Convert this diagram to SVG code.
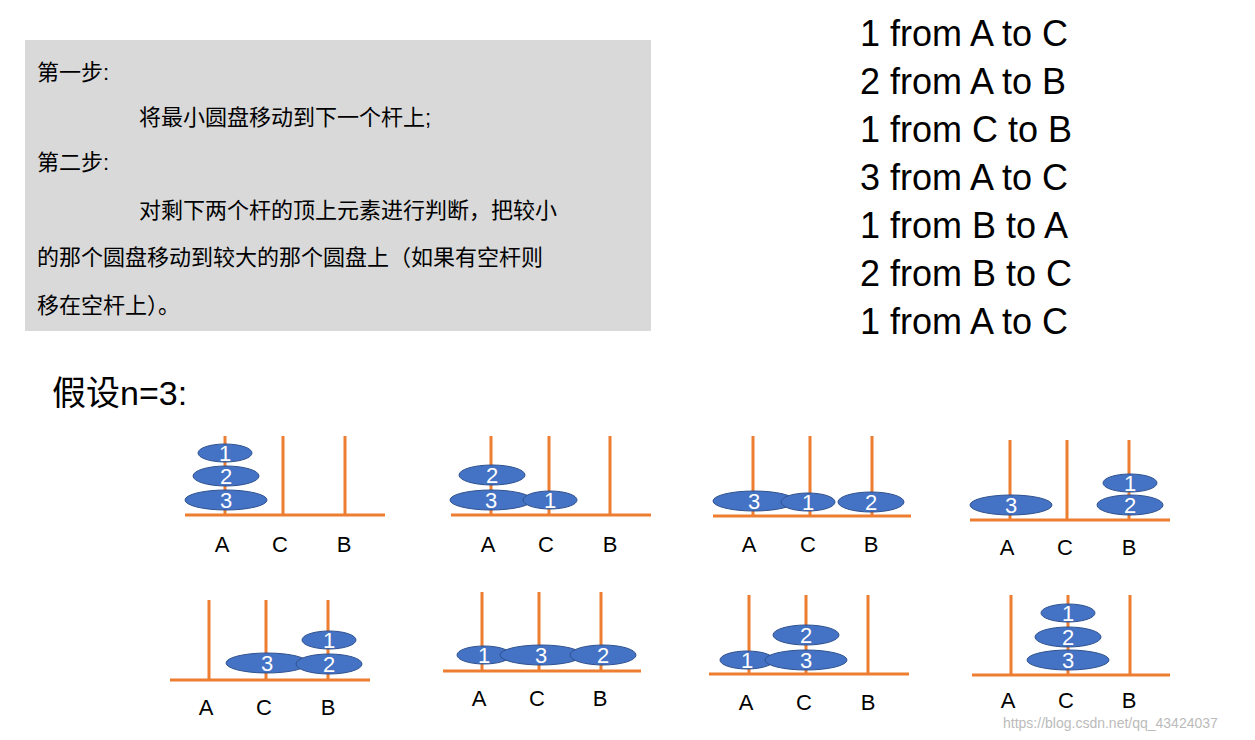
<svg xmlns="http://www.w3.org/2000/svg" width="1255" height="740" viewBox="0 0 1255 740">
<style>
.t{font-family:"Liberation Sans","Noto Sans CJK SC",sans-serif;fill:#000}
.p{stroke:#ED7D31;stroke-width:3;fill:none}
.d{fill:#4472C4;stroke:#2F528F;stroke-width:1}
.n{font-family:"Liberation Sans",sans-serif;font-size:22px;fill:#fff;text-anchor:middle}
.l{font-family:"Liberation Sans",sans-serif;font-size:22px;fill:#000;text-anchor:middle}
</style>
<rect width="1255" height="740" fill="#fff"/>
<g id="rules">
<rect x="25" y="40" width="626" height="291" fill="#D9D9D9"/>
<g class="t" font-size="22">
<text x="37" y="80">第一步:</text>
<text x="139" y="125">将最小圆盘移动到下一个杆上;</text>
<text x="37" y="170">第二步:</text>
<text x="139" y="218">对剩下两个杆的顶上元素进行判断，把较小</text>
<text x="37" y="265">的那个圆盘移动到较大的那个圆盘上（如果有空杆则</text>
<text x="37" y="313">移在空杆上）。</text>
</g>
</g>
<g id="moves" class="t" font-size="36">
<text x="860" y="46">1 from A to C</text>
<text x="860" y="94">2 from A to B</text>
<text x="860" y="142">1 from C to B</text>
<text x="860" y="190">3 from A to C</text>
<text x="860" y="238">1 from B to A</text>
<text x="860" y="286">2 from B to C</text>
<text x="860" y="334">1 from A to C</text>
</g>
<text id="title" class="t" x="52" y="405" font-size="34">假设n=3:</text>
<defs>
<g id="d1"><ellipse class="d" rx="27" ry="9"/><text class="n" y="8">1</text></g>
<g id="d2"><ellipse class="d" rx="33" ry="10"/><text class="n" y="8">2</text></g>
<g id="d3"><ellipse class="d" rx="41" ry="10"/><text class="n" y="8">3</text></g>
</defs>
<g id="s1">
<path class="p" d="M185 515H385M225 436V515M283 436V515M345 436V515"/>
<use href="#d3" x="226" y="500"/><use href="#d2" x="226" y="476"/><use href="#d1" x="225" y="453"/>
<text class="l" x="222" y="552">A</text><text class="l" x="280" y="552">C</text><text class="l" x="344" y="552">B</text>
</g>
<g id="s2">
<path class="p" d="M451 515H651M491 436V515M549 436V515M610 436V515"/>
<use href="#d3" x="491" y="500"/><use href="#d2" x="492" y="475"/><use href="#d1" x="550" y="500"/>
<text class="l" x="488" y="552">A</text><text class="l" x="546" y="552">C</text><text class="l" x="610" y="552">B</text>
</g>
<g id="s3">
<path class="p" d="M713 516H911M753 436V516M810 436V516M872 436V516"/>
<use href="#d3" x="754" y="501"/><use href="#d1" x="808" y="502"/><use href="#d2" x="871" y="502"/>
<text class="l" x="749" y="552">A</text><text class="l" x="808" y="552">C</text><text class="l" x="871" y="552">B</text>
</g>
<g id="s4">
<path class="p" d="M970 520H1170M1010 440V520M1067 440V520M1129 440V520"/>
<use href="#d3" x="1011" y="505"/><use href="#d2" x="1130" y="505"/><use href="#d1" x="1130" y="483"/>
<text class="l" x="1007" y="555">A</text><text class="l" x="1065" y="555">C</text><text class="l" x="1129" y="555">B</text>
</g>
<g id="s5">
<path class="p" d="M170 680H370M209 600V680M266 600V680M328 600V680"/>
<use href="#d3" x="267" y="663"/><use href="#d2" x="329" y="664"/><use href="#d1" x="329" y="640"/>
<text class="l" x="206" y="715">A</text><text class="l" x="264" y="715">C</text><text class="l" x="328" y="715">B</text>
</g>
<g id="s6">
<path class="p" d="M443 671H641M482 592V671M539 592V671M601 592V671"/>
<use href="#d1" x="484" y="655"/><use href="#d3" x="541" y="655"/><use href="#d2" x="603" y="655"/>
<text class="l" x="479" y="706">A</text><text class="l" x="537" y="706">C</text><text class="l" x="600" y="706">B</text>
</g>
<g id="s7">
<path class="p" d="M709 674H909M749 595V674M806 595V674M868 595V674"/>
<use href="#d1" x="747" y="660"/><use href="#d3" x="806" y="660"/><use href="#d2" x="806" y="635"/>
<text class="l" x="746" y="710">A</text><text class="l" x="804" y="710">C</text><text class="l" x="868" y="710">B</text>
</g>
<g id="s8">
<path class="p" d="M972 675H1170M1011 595V675M1068 595V675M1130 595V675"/>
<use href="#d3" x="1068" y="660"/><use href="#d2" x="1068" y="637"/><use href="#d1" x="1068" y="613"/>
<text class="l" x="1008" y="708">A</text><text class="l" x="1066" y="708">C</text><text class="l" x="1129" y="708">B</text>
</g>
<text x="1003" y="728" font-family="Liberation Sans,sans-serif" font-size="14" fill="#bbb">https://blog.csdn.net/qq_43424037</text>
</svg>
